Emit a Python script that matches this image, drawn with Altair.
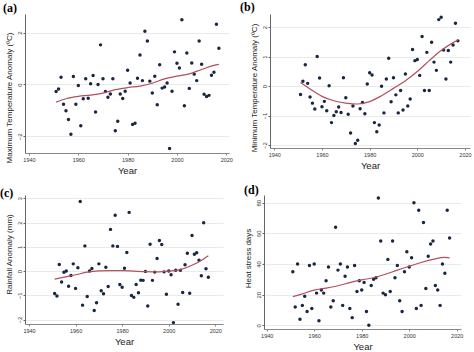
import altair as alt
import pandas as pd

years = list(range(1951, 2018))

tmax = [-0.27, -0.17, 0.28, -0.76, -1.01, -1.35, -1.92, 0.31, -0.76, -0.04,
        -1.59, -0.55, 0.22, -0.53, 0.03, 0.35, -1.06, 0.00, 1.53, 0.22,
        -0.27, -0.49, -0.37, 0.22, -1.79, -1.42, -0.37, -0.54, -0.26, 0.55,
        0.06, -1.54, -1.50, 0.24, 1.14, 0.15, 2.06, 1.68, 0.13, -0.33,
        0.32, -0.78, 0.76, -0.14, -0.10, 0.06, -2.47, -0.26, 1.26, 0.82,
        0.64, 2.50, -0.82, 1.22, -0.15, 0.83, 0.40, 0.15, 1.68, 0.78,
        -0.38, -0.46, -0.42, 0.36, 0.47, 2.33, 1.40]

tmin = [-0.29, 0.16, 0.72, 0.09, -0.37, -0.58, -0.78, 1.00, 0.27, -0.70,
        -0.52, -0.84, 0.01, -1.24, -1.00, -0.87, -0.71, -0.90, 0.28, -0.40,
        -0.96, -1.59, -0.68, -1.95, -1.84, -0.77, -0.56, -0.94, 0.07, 0.45,
        0.37, -1.24, -1.55, -1.32, -0.01, -0.91, 0.24, 0.94, -0.53, 0.28,
        -0.30, -0.91, -0.15, -0.81, 0.41, -0.68, -0.44, 1.24, 0.86, 0.90,
        0.36, 1.68, -0.15, 1.14, -0.15, 1.48, 0.81, 0.53, 2.25, 2.33,
        1.22, 0.24, 1.20, 0.81, 1.39, 2.13, 1.53]

rain = [-0.92, -1.02, 0.27, -0.45, -0.05, 0.01, -0.62, -0.18, 0.30, -0.71,
        0.14, 2.87, -1.40, 1.04, -1.04, 0.01, 0.11, -1.62, -1.30, 0.30,
        -0.81, -0.93, 0.16, -0.63, 1.72, 1.04, 2.30, 1.02, -0.55, -0.66,
        0.12, 0.77, 2.42, -1.00, -1.08, -0.55, -0.89, -0.37, -0.38, -0.01,
        -1.44, 1.11, -0.38, -0.04, 0.52, 1.26, 1.10, -0.03, -0.95, 0.01,
        -0.15, -2.12, 0.04, -1.36, 0.04, -0.88, 0.26, 0.74, -0.91, 1.47,
        0.70, 0.76, 0.45, -0.19, 1.99, 0.10, -0.25]

heat = [35, 12, 40, 4, 13, 19, 9, 39, 11, 40,
        21, 3, 23, 21, 29, 38, 12, 16, 64, 36,
        40, 13, 32, 38, 11, 5, 39, 22, 29, 23,
        28, 9, 0, 26, 30, 31, 83, 55, 21, 20,
        43, 22, 55, 31, 39, 16, 9, 35, 48, 38,
        44, 80, 11, 75, 13, 67, 24, 45, 53, 55,
        26, 23, 13, 40, 34, 75, 57]

trend_years = [1951, 1955, 1960, 1965, 1970, 1975, 1980, 1985, 1990, 1995, 2000, 2005, 2010, 2015, 2017]
trend_tmax = [-0.68, -0.55, -0.46, -0.41, -0.33, -0.20, -0.12, -0.06, 0.05, 0.22, 0.32, 0.41, 0.58, 0.74, 0.78]
trend_tmin = [0.12, -0.10, -0.35, -0.50, -0.58, -0.61, -0.53, -0.33, -0.08, 0.18, 0.49, 0.86, 1.20, 1.47, 1.56]
trend_rain = [-0.33, -0.25, -0.15, -0.04, 0.01, 0.02, 0.02, 0.00, -0.02, -0.03, 0.00, 0.06, 0.24, 0.50, 0.63]
trend_heat = [18.7, 20.5, 23.0, 24.3, 25.8, 27.8, 29.6, 31.0, 33.3, 36.0, 38.5, 41.0, 43.0, 44.3, 44.0]

x_ticks = [1940, 1960, 1980, 2000, 2020]

FONT = "Liberation Sans"
DOT = "#18263f"
LINE = "#b0505e"


def panel(label, vals, tvals, ytitle, yticks, xdom, ydom, w, h, title_y, ldx, ldy):
    df = pd.DataFrame({"year": years, "val": vals})
    tdf = pd.DataFrame({"year": trend_years, "val": tvals})
    xs = alt.Scale(domain=xdom, nice=False, zero=False)
    ys = alt.Scale(domain=ydom, nice=False, zero=False)
    xaxis = alt.Axis(values=x_ticks, tickCount=len(x_ticks), format="d", title="Year", grid=False,
                     labelFont=FONT, labelFontSize=5.5, labelColor="#333",
                     labelFlush=False, labelOverlap=False, labelPadding=2,
                     tickSize=2, tickColor="#888", domainColor="#888", domainWidth=1,
                     titleFont=FONT, titleFontSize=9.5, titleFontWeight="normal",
                     titleColor="#222", titlePadding=3)
    yaxis = alt.Axis(values=yticks, tickCount=len(yticks), format="d", title=ytitle, grid=True,
                     gridColor="#e4e4e4", gridWidth=0.8,
                     labelAngle=270, labelAlign="center", labelBaseline="bottom",
                     labelFont=FONT, labelFontSize=6, labelColor="#333",
                     labelFlush=False, labelOverlap=False, labelBound=False, labelPadding=1,
                     tickSize=2, tickColor="#666", domainColor="#666", domainWidth=1,
                     titleFont=FONT, titleFontSize=8, titleFontWeight="normal",
                     titleColor="#222", titlePadding=3, titleY=title_y)
    pts = alt.Chart(df).mark_circle(size=12, color=DOT, opacity=1).encode(
        x=alt.X("year:Q", scale=xs, axis=xaxis),
        y=alt.Y("val:Q", scale=ys, axis=yaxis),
    )
    ln = alt.Chart(tdf).mark_line(color=LINE, strokeWidth=1.2, interpolate="monotone").encode(
        x=alt.X("year:Q", scale=xs),
        y=alt.Y("val:Q", scale=ys),
    )
    return alt.layer(pts, ln).properties(
        width=w, height=h,
        title=alt.TitleParams(label, anchor="start", frame="bounds",
                              font="Liberation Serif", fontSize=12, fontWeight="bold",
                              color="#000", offset=0, dx=ldx, dy=ldy),
    )


pa = panel("(a)", tmax, trend_tmax, "Maximum Temperature Anomaly (ºC)", [-2, 0, 2],
           [1938.38, 2021.1], [-2.645, 2.722], 204, 139, 83.5, -2, 1)
pb = panel("(b)", tmin, trend_tmin, "Minimum Temperature Anomaly (ºC)", [-2, -1, 0, 1, 2],
           [1938.2, 2022.1], [-2.10, 2.44], 200, 134, 73.5, -10, 0)
pc = panel("(c)", rain, trend_rain, "Rainfall Anomaly (mm)", [-2, -1, 0, 1, 2, 3],
           [1938.28, 2023.3], [-2.177, 3.136], 198, 129, 59, -5, 5)
pd_ = panel("(d)", heat, trend_heat, "Heat stress days", [0, 20, 40, 60, 80],
            [1938.86, 2021.8], [-2.41, 85.0], 197, 134, 63, 0, 2)

row1 = alt.hconcat(pa, pb, spacing=41, bounds="flush")
row2 = alt.hconcat(pc, pd_, spacing=41, bounds="flush")

chart = alt.vconcat(row1, row2, spacing=9).properties(
    padding={"left": 0, "top": 1, "right": 0, "bottom": 0},
    background="white",
).configure_view(stroke=None)

chart.save("out.html", embed_options={"renderer": "svg", "actions": False})
